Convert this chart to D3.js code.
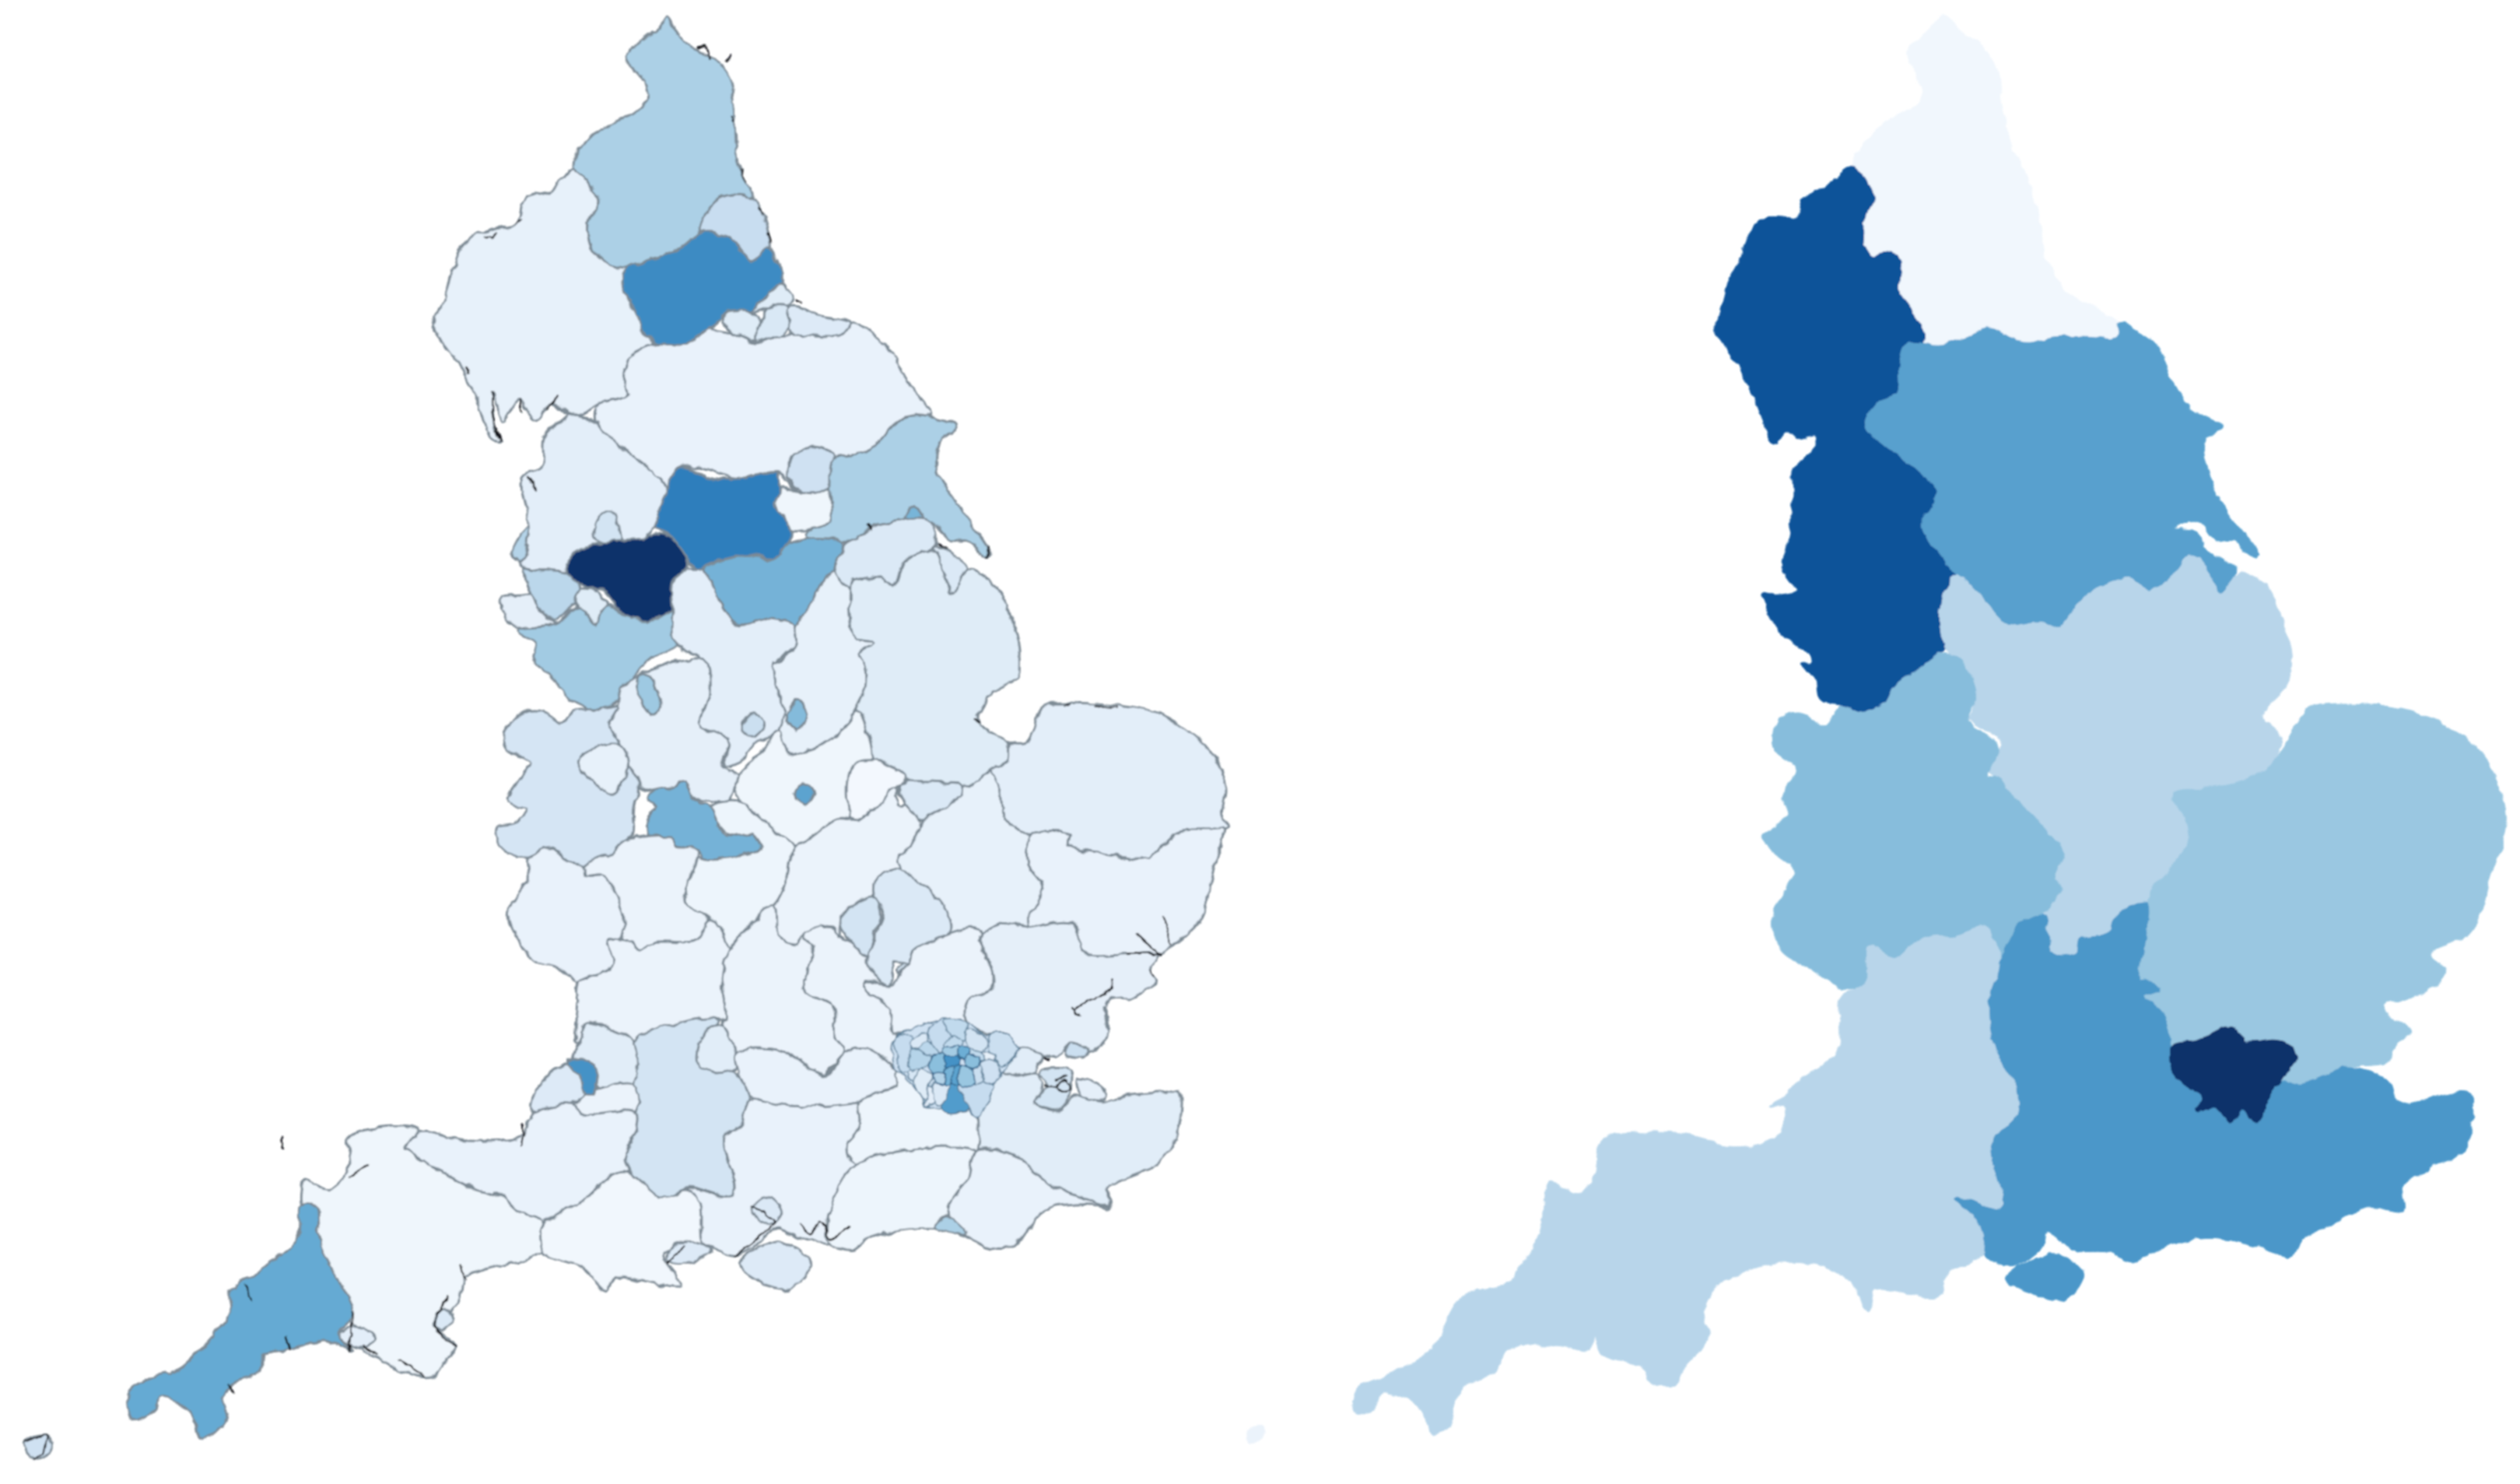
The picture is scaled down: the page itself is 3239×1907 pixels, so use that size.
<!DOCTYPE html>
<html><head><meta charset="utf-8">
<script src="https://cdn.jsdelivr.net/npm/d3@7"></script>
<style>html,body{margin:0;background:#fff}svg{display:block}</style></head>
<body><svg id="chart" width="3239" height="1907"></svg>
<script>
// Values on a 0-100 colour scale, one per unit, in draw order.
const leftCounties = ["Cumbria","Northumberland","Tyne and Wear","Durham","Hartlepool","Stockton","Middlesbrough","Redcar","North Yorkshire","Selby","York","East Riding","Hull","West Yorkshire","South Yorkshire","Lancashire","Blackburn","Fylde strip","Sefton","Wirral","Halton","Greater Manchester","Cheshire","Derbyshire","Staffordshire","Stoke","Derby","Nottinghamshire","Nottingham","North Lincolnshire","NE Lincolnshire","Lincolnshire","Shropshire","Telford","Leicestershire","Leicester","Rutland","Peterborough","Cambridgeshire","Norfolk","Suffolk","Northamptonshire","Warwickshire","West Midlands","Worcestershire","Herefordshire","Gloucestershire","Oxfordshire","Buckinghamshire","Milton Keynes","Bedfordshire","Luton","Hertfordshire","Essex","Southend","Thurrock","Kent","Medway","Sheppey","Wiltshire","Swindon","South Gloucestershire","Bath","North Somerset","Bristol","Somerset","Devon","Torbay","Plymouth","Cornwall","Dorset","Poole","Hampshire","Southampton","Isle of Wight","Berkshire","Surrey","West Sussex","East Sussex","Brighton","Scilly"];
const leftValues = [8,33,23,65,12,12,15,13,7,4,20,33,47,70,48,10,18,30,28,9,12,100,36,10,9,37,22,8,44,14,14,12,17,8,4,55,2,14,8,10,7,6,5,48,6,7,6,6,6,18,14,16,6,9,22,11,11,18,9,18,11,11,6,13,62,7,4,14,10,52,3,13,7,14,13,7,5,5,7,33,20];
const boroughNames = ["Greater London","Hillingdon","Harrow","Barnet","Enfield","Waltham Forest","Havering","Barking","Redbridge","Hounslow","Ealing","Brent","Haringey","Richmond","Kingston","Merton","Croydon","Bromley","Bexley","Greenwich","Inner west","Westminster","Camden","Hackney","Newham","Lambeth","Southwark","Lewisham","Wandsworth"];
const boroughValues = [20,24,14,24,26,18,22,8,26,16,30,28,26,12,10,14,58,24,20,22,42,62,35,50,42,48,55,38,30];
const rightRegions = ["North East","North West","Yorkshire and the Humber","East Midlands","West Midlands","East of England","South East","Isle of Wight","London","South West","Scilly"];
const rightValues = [3,87,56,29,43,38,60,60,100,29,6];

// Outlines: "crop-letter then x,y pairs" measured on enlarged tiles of the picture.
const tiles = {A:[500,0,1100/1568,1000/1568],B:[100,1000,1500/1568,907/1568],C:[2100,0,1139/1568,1000/1568],D:[1700,900,1539/1568,1007/1568],E:[600,850,1000/1568,1/3],F:[1100,1280,1/3,1/3],O:[0,0,3239/1568,3239/1568]};
const leftRings = [
"A 340,340 385,400 365,450 375,510 435,540 430,580 450,625 485,695 440,720 430,770 440,795 385,815 345,840 300,815 265,845 240,805 210,850 190,790 195,870 205,890 185,880 165,820 135,745 105,700 82,665 100,600 140,490 180,465 235,450 250,400 300,380",
"A 510,35 530,70 565,100 610,130 630,190 640,330 665,400 605,400 570,470 530,500 465,530 435,540 375,510 365,450 385,400 340,340 355,290 410,250 470,210 465,160 435,115 490,60",
"A 605,400 665,400 695,470 695,520 665,525 625,480 570,470",
"A 435,540 465,530 530,500 570,470 625,480 665,525 695,500 720,570 690,600 665,630 615,630 590,665 540,695 485,690 450,625 430,580",
"A 720,570 740,600 730,620 695,620 665,630 690,600",
"A 615,630 665,630 680,650 670,690 640,675 610,650",
"A 680,650 695,620 730,620 735,650 720,675 695,690 670,690",
"A 735,620 790,635 845,650 830,675 740,675",
"A 485,695 540,695 590,665 640,675 670,690 720,675 830,675 850,650 910,695 950,770 990,840 945,840 905,880 875,910 815,925 800,905 770,900 730,935 745,985 710,950 640,965 540,940 505,980 460,930 420,900 378,850 385,815 440,795 430,770 440,720",
"A 715,985 760,990 808,980 808,1050 775,1065 735,1070 710,1020",
"A 770,900 800,905 815,925 808,980 760,990 730,955 745,915",
"A 815,925 875,910 905,880 950,840 990,840 1040,860 1010,890 1005,950 1050,1030 1100,1110 1095,1125 1060,1090 1030,1090 990,1050 900,1055 880,1065 840,1095 765,1080 775,1065 808,1050 808,980",
"A 945,1050 960,1018 980,1050",
"A 535,940 590,965 645,965 710,950 715,985 710,1020 735,1070 725,1120 705,1125 640,1120 575,1150 548,1135 510,1075 485,1060 505,990",
"A 575,1150 640,1120 705,1125 735,1095 770,1085 830,1095 815,1150 770,1220 745,1265 700,1245 640,1260 610,1220",
"A 300,815 345,840 378,850 420,900 460,930 505,980 485,1060 470,1085 410,1090 335,1115 325,1155 270,1150 240,1130 255,1060 245,960 280,940 285,880 330,830",
"A 378,1085 385,1040 405,1030 420,1060 425,1090 400,1095",
"A 240,1130 225,1120 232,1095 255,1060 245,1130",
"A 250,1145 270,1150 325,1155 350,1185 320,1240 290,1245 260,1200",
"A 210,1205 240,1200 260,1200 290,1245 310,1255 270,1270 235,1265 205,1230",
"A 345,1195 370,1185 400,1220 375,1255 345,1225",
"A 335,1115 410,1090 470,1085 505,1075 548,1135 525,1195 520,1230 480,1250 430,1240 395,1190 355,1180 325,1155",
"A 235,1270 310,1255 345,1225 375,1255 400,1220 430,1240 480,1250 520,1235 525,1300 490,1320 450,1360 420,1410 375,1430 335,1410 300,1370 265,1325 270,1300",
"A 520,1235 525,1160 575,1150 610,1220 640,1260 700,1245 745,1265 745,1300 710,1335 E 620,80 640,200 630,265 585,310 550,390 515,400 530,300 470,240 490,130 480,0 A 525,1300",
"E 350,50 430,0 480,0 490,130 470,240 530,300 510,400 545,440 525,535 480,530 455,520 440,460 415,490 375,500 350,480 325,400 305,300 290,235 305,170 315,90",
"E 345,60 365,55 390,180 375,205 355,165",
"E 575,200 600,245 575,295 555,255",
"A 745,1265 770,1220 815,1150 845,1190 855,1285 885,1295 860,1320 E 800,0 805,90 780,190 760,260 710,320 650,360 635,320 630,265 640,200 620,80 620,0 A 710,1335 745,1300",
"E 665,145 685,200 665,265 645,210",
"A 815,1150 840,1095 880,1065 900,1055 990,1050 1000,1100 945,1130 925,1180 895,1165 850,1170 845,1190",
"A 1000,1100 1060,1150 1030,1195 1015,1165",
"A 845,1190 850,1170 895,1165 925,1180 945,1130 1000,1110 1030,1195 1060,1150 1110,1180 1150,1280 1155,1340 E 1110,60 1060,120 1030,225 1060,280 1095,320 1090,380 1060,410 1020,475 960,465 885,460 815,380 785,190 805,90 800,0 A 860,1320 885,1295 855,1285",
"E 130,190 165,200 190,240 215,195 265,185 305,170 290,235 305,300 325,400 350,470 335,570 335,670 320,690 290,740 235,790 205,770 165,720 125,760 85,735 60,680 60,640 100,620 120,570 100,560 85,530 120,420 130,390 85,340 75,290 100,215",
"E 225,380 305,320 325,400 295,510 265,480",
"E 545,440 585,370 630,265 650,360 710,320 760,260 785,190 815,380 775,410 775,600 745,610 695,680 660,720 620,650 550,540",
"E 680,465 700,500 680,555 660,510",
"E 815,380 885,440 865,490 820,570 790,610 775,600 775,410",
"E 870,480 885,465 960,465 1000,475 995,525 920,610 885,550",
"E 1000,475 1020,475 1060,420 1075,500 1085,600 1140,670 1130,780 1160,870 1130,1020 1070,1010 1040,1050 1020,1030 975,1050 965,960 930,880 875,800 870,760 915,640 920,610 995,525",
"E 1095,320 1130,310 1165,170 1205,160 1380,190 1450,260 1505,370 1530,490 1525,580 1535,640 1500,650 1435,660 1375,755 1300,745 1215,710 1215,665 1140,680 1085,600 1075,500 1060,410 1090,380",
"E 1140,670 1215,665 1215,710 1300,745 1375,755 1435,660 1500,650 1525,640 1505,800 1480,990 1420,1100 1390,1130 1330,1130 1245,1125 1220,1010 1130,1025 1160,870 1130,780",
"E 660,720 695,680 745,610 790,610 865,490 870,560 885,550 915,640 870,760 875,800 825,840 820,900 755,980 750,1060 735,1020 680,1050 660,1090 630,1060 620,940 645,840 650,770",
"E 460,750 480,760 590,720 580,670 530,670 490,560 530,535 550,540 620,650 660,720 650,770 645,840 620,940 590,980 560,1050 530,1115 490,990 440,930 450,840 460,770",
"E 375,500 415,490 440,460 455,520 490,555 520,670 580,670 590,720 480,760 465,725 420,720 415,680 370,680 365,600 380,560 365,530",
"E 320,690 415,680 420,720 465,725 450,840 440,930 490,990 465,1075 375,1085 345,1110 320,1070 285,1065 310,990 295,880 275,830 240,830 235,790 290,740",
"E 125,760 165,720 205,770 235,790 240,830 275,830 295,880 315,990 310,1060 285,1070 295,1170 225,1240 195,1190 135,1150 100,1060 85,980 100,900 125,840",
"E 225,1240 295,1170 285,1070 320,1070 345,1110 375,1085 465,1075 490,990 530,1115 515,1215 520,1385 B 860,535 790,550 745,585 690,540 670,590 672,500",
"E 530,1115 580,1000 620,940 630,1060 660,1090 680,1050 695,1100 685,1210 680,1270 740,1330 740,1440 760,1500 B 1005,660 945,605 885,610 865,540 E 520,1385 515,1215",
"E 680,1050 735,1020 750,1060 810,1130 810,1170 850,1250 800,1230 810,1280 855,1340 865,1440 B 1100,640 1090,630 1060,600 1030,610 1005,660 E 760,1500 740,1440 740,1330 680,1270 685,1210 695,1100",
"E 820,910 835,980 820,1050 810,1130 760,1050 755,980",
"E 825,840 870,800 930,880 965,960 975,1040 900,1110 890,1160 865,1160 850,1250 810,1170 825,1050 840,970 820,900",
"E 875,1170 900,1160 910,1230 890,1245 870,1210",
"E 975,1050 1020,1030 1040,1050 1040,1120 1060,1190 1060,1260 1010,1310 1010,1380 950,1385 860,1430 855,1340 810,1280 800,1230 850,1250 890,1160 900,1110",
"E 1040,1050 1070,1010 1130,1025 1220,1010 1245,1125 1330,1130 1390,1130 1380,1190 1390,1230 1340,1300 1295,1300 1290,1420 F 960,40 970,155 890,215 820,185 770,235 720,225 625,205 570,140 510,145 425,90 E 1010,1310 1060,1260 1060,1190 1040,1120",
"F 805,205 825,180 890,210 880,235 820,230",
"F 625,205 720,230 680,295 620,310 565,290",
"F 500,300 565,290 620,310 690,300 720,370 685,410 770,440 850,380 945,410 1040,385 1200,370 B 1480,695 1475,800 1440,870 1385,910 1385,955 1355,935 1310,905 1255,835 1205,830 1210,755",
"F 705,300 720,285 800,280 835,300 800,420 770,440 685,410 720,370 740,340",
"F 860,320 940,345 970,385 945,405 880,385",
"B 745,590 790,550 860,535 840,590 840,640 880,650 905,715 890,770 870,800 880,925 820,910 785,930 735,850 750,780",
"B 850,550 870,560 885,640 860,655 835,640 835,590",
"B 680,545 745,585 745,680 700,685 700,660 680,625 665,630 675,575",
"B 700,690 745,680 750,745 680,745 665,720",
"B 660,635 672,660 680,700 665,725 610,740 610,710 625,670",
"B 660,630 680,625 700,660 692,700 680,700 672,660",
"B 460,785 520,805 600,790 610,745 665,725 680,745 750,745 735,850 740,875 700,905 680,940 625,990 590,960 570,930 530,910 490,875 440,820",
"B 365,795 450,775 460,785 440,820 490,875 530,910 570,930 590,960 625,990 625,1050 550,1090 520,1110 510,1170 480,1220 505,1260 475,1330 440,1320 380,1260 375,1220 345,1190 325,1030 320,960 300,945 305,895 340,910 365,860",
"B 490,1175 505,1200 490,1230 478,1215",
"B 350,1240 375,1220 400,1245 385,1265",
"B 300,950 320,950 325,1030 345,1100 370,1190 350,1240 370,1270 330,1250 280,1270 250,1280 245,1320 205,1350 195,1390 200,1420 165,1470 150,1400 110,1375 105,1400 75,1425 70,1360 105,1330 140,1310 180,1240 205,1190 205,1140 250,1090 295,1020",
"B 625,990 680,940 700,905 735,875 785,930 820,915 835,945 845,1040 815,1040 785,1060 810,1130 720,1110 710,1140 680,1090 625,1050",
"B 800,1040 830,1030 850,1050 810,1080 790,1070",
"B 820,915 880,925 870,800 890,770 905,715 1050,720 1050,770 1035,820 1045,860 1010,960 1010,1030 970,1020 940,1000 910,1040 885,1060 855,1045 840,1030 835,945",
"B 905,960 925,930 945,960 930,990",
"B 890,1080 940,1030 985,1075 960,1130 945,1135",
"B 885,610 945,605 1005,660 1030,610 1060,600 1090,630 1100,650 1100,680 1050,720 910,710 885,640",
"B 1100,650 1130,620 1200,620 1210,755 1205,830 1160,820 1045,860 1035,820 1050,770 1050,720 1100,680",
"B 1045,860 1160,820 1205,830 1195,890 1170,965 1195,1020 1150,1000 1065,1020 1040,1050 1010,1030 1010,960",
"B 1205,830 1255,835 1310,905 1355,935 1385,950 1350,945 1300,960 1250,1045 1195,1020 1170,965 1195,890",
"B 1150,995 1165,970 1195,1015",
"O 15,897 30,893 32,903 20,908"
];
const boroughRings = [
"F 150,160 290,100 350,85 425,95 500,150 570,140 625,205 560,290 520,345 525,370 470,465 420,425 370,460 335,430 260,425 250,390 190,310 150,270",
"F 150,160 215,150 215,215 200,290 175,290 160,230",
"F 215,170 270,140 275,180 240,205 220,205",
"F 280,130 350,85 365,165 320,220 285,165",
"F 350,85 425,95 430,130 425,170 365,165",
"F 430,130 510,170 490,210 440,205",
"F 520,150 570,140 625,205 560,265 520,210",
"F 490,215 540,225 530,250 495,250",
"F 440,205 490,215 495,250 450,255 425,230",
"F 195,290 255,280 225,330",
"F 215,215 290,230 280,265 205,285",
"F 240,205 275,180 320,220 290,230",
"F 345,190 360,165 410,170 400,200",
"F 255,280 295,300 285,350 270,410 250,390 225,330",
"F 285,350 305,370 305,410 260,425 270,390",
"F 305,330 360,325 365,400 305,410",
"F 375,340 405,345 435,420 370,460 335,425",
"F 400,345 525,345 520,385 470,465 430,415",
"F 470,270 530,250 555,290 520,335 490,330",
"F 440,270 470,270 490,330 455,340",
"F 295,235 345,225 340,300 300,300",
"F 345,225 395,225 395,270 345,275",
"F 340,200 400,200 395,225 345,225",
"F 395,200 440,205 425,240 395,240",
"F 425,230 475,232 470,270 440,270",
"F 345,275 380,275 375,340 345,335",
"F 380,270 410,265 405,345 378,340",
"F 410,265 440,270 455,340 405,345",
"F 300,300 345,300 345,335 305,330"
];
const rightRings = [
"C 548,30 575,60 610,85 640,130 650,200 665,280 690,340 715,430 735,530 770,590 830,630 860,650 850,680 810,680 750,678 690,690 630,660 590,680 540,695 510,690 510,660 480,610 470,590 472,520 450,505 425,520 408,490 410,430 430,400 415,370 385,335 400,300 440,250 500,210 510,180 490,130 485,100 520,60",
"C 385,335 350,365 325,385 298,400 290,435 230,440 195,490 190,520 165,575 155,620 142,660 175,720 195,760 215,810 232,860 245,895 265,880 275,870 290,882 325,878 315,910 283,945 282,1000 272,1100 265,1145 285,1190 255,1200 228,1195 240,1240 265,1280 305,1310 315,1335 295,1340 320,1365 330,1410 370,1420 405,1435 440,1420 460,1385 520,1335 550,1305 545,1210 570,1160 545,1120 510,1065 530,1015 535,990 490,935 445,900 408,855 430,810 465,795 470,740 480,700 510,690 510,660 480,610 470,590 472,520 450,505 425,520 408,490 410,430 430,400 415,370",
"C 510,690 540,695 590,680 630,660 690,690 750,678 810,680 850,680 860,650 890,665 925,695 950,760 985,820 1040,860 1010,890 1020,960 1050,1030 1105,1115 1098,1125 1060,1090 1030,1090 1000,1055 955,1065 990,1070 1020,1115 1065,1145 1040,1195 1020,1165 1015,1140 985,1120 945,1170 910,1190 880,1165 840,1175 800,1200 770,1240 750,1265 720,1255 660,1260 625,1215 570,1160 545,1120 510,1065 530,1015 535,990 490,935 445,900 408,855 430,810 465,795 470,740 480,700",
"C 570,1160 625,1215 660,1260 720,1255 750,1265 770,1240 800,1200 840,1175 880,1165 910,1190 945,1170 985,1120 1015,1140 1020,1165 1040,1195 1070,1155 1120,1180 1150,1260 1165,1320 1158,1375 1120,1425 D 1230,35 1255,75 1250,115 1215,155 1165,175 1115,185 1135,270 1105,345 1085,380 1080,405 1040,430 1030,465 990,480 985,505 955,505 945,440 945,425 965,375 960,350 970,310 940,245 900,185 870,130 890,85 845,40 C 590,1450 605,1410 590,1345 550,1305 545,1210",
"C 245,1490 255,1450 295,1435 340,1465 365,1420 405,1435 440,1420 460,1385 520,1335 550,1315 590,1345 605,1410 590,1450 645,1500 625,1568 D 880,150 900,185 940,245 970,310 960,350 965,375 945,425 915,445 885,530 860,450 835,470 780,480 750,515 715,490 710,570 680,575 640,540 600,500 590,430 610,370 620,340 590,300 575,275 610,230 600,190 620,140 590,95",
"D 1300,10 1350,5 1420,20 1470,50 1520,110 1540,170 1550,240 1530,350 1505,460 1450,510 1470,540 1440,590 1390,605 1400,640 1425,660 1400,700 1395,725 1345,735 1320,745 1280,768 1255,760 1275,715 1255,680 1210,680 1190,652 1145,680 1112,692 1100,625 1075,590 1095,585 1085,560 1070,560 1075,500 1080,405 1085,380 1105,345 1135,270 1115,185 1165,175 1215,155 1250,115 1270,60 1290,20",
"D 1080,405 1075,500 1070,560 1085,560 1095,585 1075,590 1100,625 1112,692 1115,750 1150,795 1145,820 1170,815 1190,845 1205,820 1225,845 1240,790 1255,760 1280,768 1320,745 1345,735 1395,760 1410,805 1500,785 1495,900 1450,935 1415,975 1415,1022 1370,1015 1320,1050 1285,1075 1265,1115 1230,1095 1165,1075 1110,1090 1055,1125 1030,1105 985,1100 950,1065 945,1090 900,1135 865,1105 850,1030 825,1000 840,995 875,1015 890,1015 875,890 910,830 905,770 880,700 872,610 885,530 915,445 945,430 955,505 985,505 990,480 1030,465 1040,430",
"D 955,1110 985,1125 997,1150 975,1200 950,1200 895,1155",
"D 1190,652 1210,680 1255,680 1275,715 1255,760 1240,790 1225,845 1205,820 1190,845 1170,815 1145,820 1150,795 1115,750 1112,692 1145,680",
"D 860,450 885,490 885,530 872,610 880,700 905,770 910,830 875,890 890,1015 875,1015 840,995 825,1000 850,1030 865,1105 820,1145 810,1190 790,1195 725,1180 715,1225 690,1160 625,1125 560,1140 515,1175 500,1225 505,1280 475,1330 460,1370 430,1365 420,1335 365,1310 355,1275 350,1300 310,1290 240,1300 230,1340 180,1380 170,1440 145,1475 130,1420 80,1385 70,1415 42,1425 45,1380 90,1345 140,1300 185,1190 240,1165 285,1060 298,965 335,985 355,950 365,880 450,865 510,880 540,895 595,870 605,810 585,815 630,755 675,700 680,590 710,570 715,490 750,515 780,480 835,470",
"O 777,889 786,887 785,895 778,897"
];
const coastTraces = [
"A 565,95 580,95 585,120","A 620,125 628,110","A 628,235 632,245","A 645,345 655,365","A 678,420 685,430","A 695,470 700,490","A 745,605 755,610","A 140,740 145,752","A 190,790 190,840 205,890 195,870","A 240,805 245,830","A 290,825 310,800","A 255,960 268,990","A 175,480 195,470","A 235,450 245,440","A 875,1060 885,1065","A 1005,1095 1020,1105","A 1095,1125 1100,1105",
"E 1205,165 1215,165","E 1265,170 1310,178","E 1025,225 1030,235","E 1405,990 1420,1090","E 1350,1050 1395,1130","E 1330,1130 1395,1125","E 1380,1190 1385,1210","E 1300,1220 1300,1260 1270,1300 1225,1340 1235,1370",
"B 275,795 277,820","B 365,890 390,860","B 600,770 595,815","B 515,1080 520,1115","B 495,1150 480,1220 505,1260","B 370,1190 365,1270","B 385,1260 400,1280","B 430,1290 465,1330","B 200,1345 210,1365","B 225,1130 235,1160","B 280,1240 285,1270","B 905,950 935,985 915,1020 885,1060","B 970,990 985,1015 1000,990 1012,1020 1035,1000","B 790,1080 815,1040",
"F 780,345 800,325 825,340 820,365 790,370 775,345","F 730,345 770,345","F 780,320 810,310","F 725,235 745,245","F 830,45 860,70","O 15,897 30,893 25,905 20,908"
];

const tileScale = Object.fromEntries(Object.entries(tiles).map(([k,[x0,y0,kx,ky]])=>[k,{
  x:d3.scaleLinear().domain([0,1]).range([x0,x0+kx]),
  y:d3.scaleLinear().domain([0,1]).range([y0,y0+ky])}]));
function ring(s){
  let t=null; const out=[];
  for(const tok of s.split(/\s+/)){
    if(tiles[tok]){t=tileScale[tok];continue;}
    const [a,b]=tok.split(",").map(Number);
    out.push([t.x(a),t.y(b)]);
  }
  return out;
}
const blues=d3.scaleSequential(d3.interpolateBlues).domain([0,100]);
const closed=d3.line().curve(d3.curveCatmullRomClosed.alpha(0.5));
const open=d3.line().curve(d3.curveCatmullRom.alpha(0.5));
const svg=d3.select("#chart");

// Rough, slightly soft edges like the scanned source.
const filter=svg.append("defs").append("filter").attr("id","rough")
  .attr("filterUnits","userSpaceOnUse").attr("x",0).attr("y",0).attr("width",3239).attr("height",1907);
filter.append("feTurbulence").attr("type","fractalNoise").attr("baseFrequency",0.05).attr("numOctaves",3).attr("seed",7).attr("result","n");
filter.append("feDisplacementMap").attr("in","SourceGraphic").attr("in2","n").attr("scale",10).attr("xChannelSelector","R").attr("yChannelSelector","G").attr("result","d");
filter.append("feGaussianBlur").attr("in","d").attr("stdDeviation",1.2);

const art=svg.append("g").attr("filter","url(#rough)");

art.append("g").attr("class","left").selectAll("path")
  .data(leftCounties.map((n,i)=>({n,v:leftValues[i],r:ring(leftRings[i])})))
  .join("path").attr("d",d=>closed(d.r)).attr("fill",d=>blues(d.v))
  .attr("stroke","#7d8a94").attr("stroke-width",3).attr("stroke-linejoin","round")
  .append("title").text(d=>d.n);

art.append("g").attr("class","london").selectAll("path")
  .data(boroughNames.map((n,i)=>({n,v:boroughValues[i],r:ring(boroughRings[i])})))
  .join("path").attr("d",d=>closed(d.r)).attr("fill",d=>blues(d.v))
  .attr("stroke",(d,i)=>i>19?"#2f5f86":"#5d7f98").attr("stroke-width",1.6).attr("stroke-linejoin","round")
  .append("title").text(d=>d.n);

art.append("g").attr("class","coast").selectAll("path")
  .data(coastTraces.map(ring)).join("path").attr("d",d=>open(d))
  .attr("fill","none").attr("stroke","#15181c").attr("stroke-width",2.4).attr("stroke-linecap","round");

art.append("g").attr("class","right").selectAll("path")
  .data(rightRegions.map((n,i)=>({n,v:rightValues[i],r:ring(rightRings[i])})))
  .join("path").attr("d",d=>closed(d.r)).attr("fill",d=>blues(d.v))
  .attr("stroke",d=>blues(d.v)).attr("stroke-width",1).attr("stroke-linejoin","round")
  .append("title").text(d=>d.n);
</script></body></html>
